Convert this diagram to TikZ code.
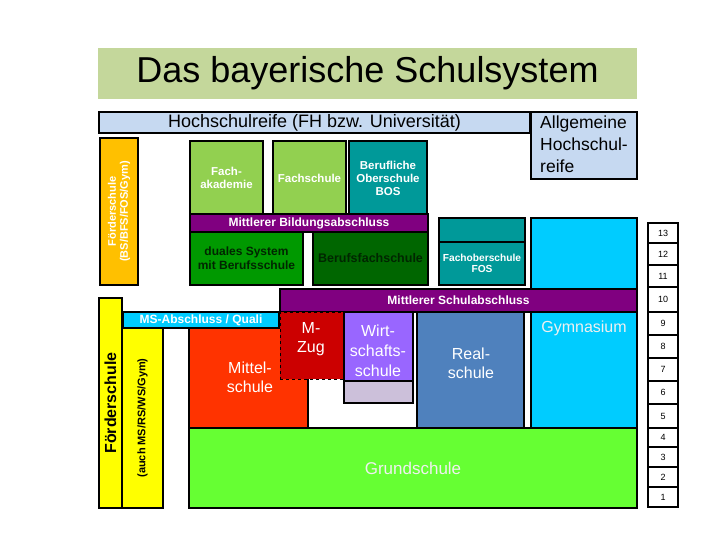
\documentclass[tikz,border=0pt]{standalone}
\usepackage{fontspec}
\setmainfont{Liberation Sans}
\definecolor{titlegreen}{HTML}{C4D79B}
\definecolor{hsblue}{HTML}{C6D9F1}
\definecolor{fsorange}{HTML}{FFC000}
\definecolor{lgreen}{HTML}{92D050}
\definecolor{tealc}{HTML}{009999}
\definecolor{purp}{HTML}{800080}
\definecolor{dualgreen}{HTML}{009900}
\definecolor{bfsgreen}{HTML}{006600}
\definecolor{cyanc}{HTML}{00CCFF}
\definecolor{yell}{HTML}{FFFF00}
\definecolor{mred}{HTML}{FF3300}
\definecolor{mzug}{HTML}{CC0000}
\definecolor{wirt}{HTML}{9966FF}
\definecolor{lav}{HTML}{CCC0DA}
\definecolor{realc}{HTML}{4F81BD}
\definecolor{grund}{HTML}{66FF33}
\tikzset{
  bx/.style={draw=black, line width=1.1pt, inner sep=1pt, outer sep=0pt, align=center, anchor=center},
  wtb/.style={text=white, font=\bfseries\fontsize{11.5}{13}\selectfont},
  wtm/.style={text=white, font=\bfseries\fontsize{12}{13}\selectfont},
  wtl/.style={text=white, font=\fontsize{16}{19}\selectfont},
  gbox/.style={bx, fill=white, font=\fontsize{9}{10}\selectfont},
}
\newcommand\bx[7]{\node[bx, #6, minimum width={(#4-#2)*1pt}, minimum height={(#5-#3)*1pt}] (#1) at ({(#2+#4)/2},{(#3+#5)/2}) {#7};}
\begin{document}
\begin{tikzpicture}[x=1pt,y=-1pt]
\useasboundingbox[fill=white] (0,0) rectangle (720,540);
% title
\bx{title}{98}{48}{637}{99}{draw=none, fill=titlegreen, font=\fontsize{36}{40}\selectfont}{Das bayerische Schulsystem}
% top
\bx{hsr}{99}{112}{530}{133}{fill=hsblue, font=\fontsize{18}{20}\selectfont}{Hochschulreife (FH bzw. Universität)}
\bx{ahr}{531}{112}{637}{179}{fill=hsblue}{}
\node[anchor=north west, align=left, inner sep=0pt, font=\fontsize{17.5}{22}\selectfont] (ahrt) at (540,116) {Allgemeine\\Hochschul-\\reife};
% Foerderschule upper
\bx{fsu}{100}{138}{138}{285}{fill=fsorange}{}
\node[rotate=90, align=center, text=white, font=\bfseries\fontsize{11}{12}\selectfont] (fsut) at (fsu.center) {Förderschule\\(BS/BFS/FOS/Gym)};
% upper schools
\bx{fak}{190}{141}{263}{215}{fill=lgreen, wtb}{Fach-\\akademie}
\bx{fs}{273}{141}{346}{215}{fill=lgreen, wtb}{Fachschule}
\bx{bos}{349}{141}{427}{215}{fill=tealc, wtb}{Berufliche\\Oberschule\\BOS}
\bx{mba}{190}{214}{428}{232}{fill=purp, wtm}{Mittlerer Bildungsabschluss}
\bx{dual}{190}{232}{303}{285}{fill=dualgreen, font=\bfseries\fontsize{12}{14}\selectfont, text=black!85!green}{duales System\\mit Berufsschule}
\bx{bfs}{313}{232}{428}{285}{fill=bfsgreen, font=\bfseries\fontsize{12.5}{14}\selectfont, text=black!85!green}{Berufsfachschule}
\bx{fosu}{439}{218}{525}{242}{fill=tealc}{}
\bx{fos}{439}{242}{525}{285}{fill=tealc, text=white, font=\bfseries\fontsize{10.2}{11.5}\selectfont}{Fachoberschule\\FOS}
\bx{gymu}{531}{218}{637}{289}{fill=cyanc}{}
% middle
\bx{msa}{280}{289}{637}{312}{fill=purp, wtm}{Mittlerer Schulabschluss}
\bx{fsl}{99}{298}{122}{508}{fill=yell}{}
\node[rotate=90, font=\bfseries\fontsize{16}{18}\selectfont] (fslt) at (fsl.center) {Förderschule};
\bx{msq}{123}{312}{279}{328}{fill=cyanc, wtm}{MS-Abschluss / Quali}
\bx{auch}{122}{328}{163}{508}{fill=yell}{}
\node[rotate=90, font=\bfseries\fontsize{11}{12}\selectfont] (aucht) at (auch.center) {(auch MS/RS/WS/Gym)};
\bx{ms}{189}{328}{308}{428}{fill=mred}{}
\node[wtl, align=center] (mst) at (250,377) {Mittel-\\schule};
\bx{mz}{280}{312}{343}{379}{fill=mzug, dashed, line width=0.8pt}{}
\node[wtl, align=center, anchor=north] (mzt) at (311,319) {M-\\Zug};
\bx{ws}{344}{312}{413}{381}{fill=wirt}{}
\node[wtl, align=center, anchor=north, font=\fontsize{16}{20}\selectfont] (wst) at (378,321) {Wirt-\\schafts-\\schule};
\bx{wsl}{344}{381}{413}{403}{fill=lav}{}
\bx{rs}{417}{312}{524}{428}{fill=realc}{}
\node[wtl, align=center] (rst) at (471,363) {Real-\\schule};
\bx{gym}{531}{312}{637}{428}{fill=cyanc}{}
\node[wtl, text=white!94!black, anchor=north] (gymt) at (584,317) {Gymnasium};
\bx{gs}{189}{428}{637}{508}{fill=grund, wtl, font=\fontsize{17}{19}\selectfont, text=white!94!black}{Grundschule}
% grades
\foreach \n/\a/\b in {13/223/243,12/243/265,11/265/287,10/287/312,9/312/335,8/335/358,7/358/381,6/381/404,5/404/428,4/428/447,3/447/467,2/467/487,1/487/507}{
  \bx{g\n}{648}{\a}{678}{\b}{gbox}{\n}
}
\end{tikzpicture}
\end{document}
